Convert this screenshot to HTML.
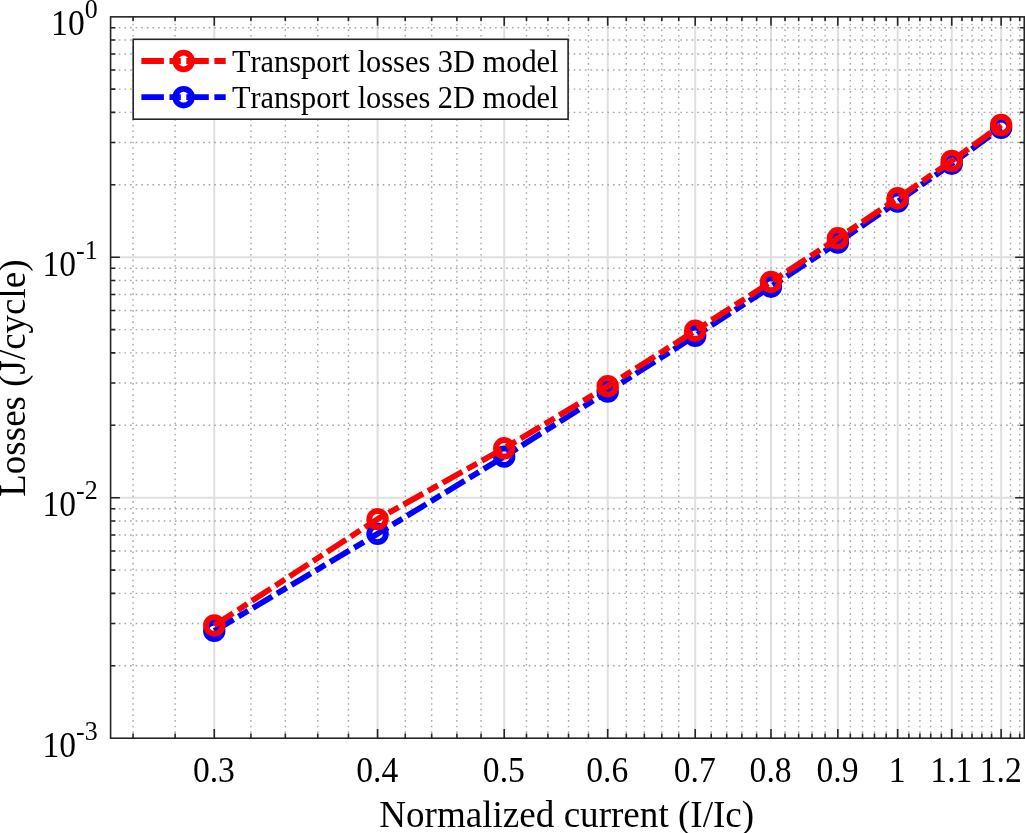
<!DOCTYPE html>
<html><head><meta charset="utf-8"><title>Transport losses</title>
<style>html,body{margin:0;padding:0;background:#fff;width:1025px;height:833px;overflow:hidden}svg{display:block}text{font-family:"Liberation Serif","Times New Roman",serif;fill:#000;font-kerning:none}</style></head><body>
<svg width="1025" height="833" viewBox="0 0 1025 833">
<rect x="0" y="0" width="1025" height="833" fill="#fff"/>
<path d="M214.28 738.20V16.70M377.57 738.20V16.70M504.22 738.20V16.70M607.71 738.20V16.70M695.20 738.20V16.70M770.99 738.20V16.70M837.84 738.20V16.70M897.65 738.20V16.70M951.74 738.20V16.70M1001.13 738.20V16.70M110.80 257.20H1024.30M110.80 497.70H1024.30" stroke="#dfdfdf" stroke-width="2" fill="none"/>
<path d="M133.06 738.20V16.70M175.12 738.20V16.70M250.92 738.20V16.70M285.33 738.20V16.70M317.77 738.20V16.70M348.46 738.20V16.70M405.26 738.20V16.70M431.67 738.20V16.70M456.90 738.20V16.70M481.05 738.20V16.70M526.48 738.20V16.70M547.91 738.20V16.70M568.55 738.20V16.70M588.46 738.20V16.70M626.32 738.20V16.70M644.34 738.20V16.70M661.80 738.20V16.70M678.75 738.20V16.70M711.19 738.20V16.70M726.74 738.20V16.70M741.88 738.20V16.70M756.62 738.20V16.70M785.01 738.20V16.70M798.68 738.20V16.70M812.04 738.20V16.70M825.09 738.20V16.70M850.32 738.20V16.70M862.53 738.20V16.70M874.48 738.20V16.70M886.18 738.20V16.70M908.89 738.20V16.70M919.91 738.20V16.70M930.72 738.20V16.70M941.33 738.20V16.70M961.97 738.20V16.70M972.02 738.20V16.70M981.89 738.20V16.70M991.59 738.20V16.70M1010.51 738.20V16.70M1019.74 738.20V16.70" stroke="#a6a6a6" stroke-width="1.4" stroke-dasharray="1.6 4.0155" stroke-dashoffset="0.3" fill="none"/>
<path d="M110.80 665.80H1024.30M110.80 623.45H1024.30M110.80 593.40H1024.30M110.80 570.10H1024.30M110.80 551.05H1024.30M110.80 534.95H1024.30M110.80 521.01H1024.30M110.80 508.70H1024.30M110.80 425.30H1024.30M110.80 382.95H1024.30M110.80 352.90H1024.30M110.80 329.60H1024.30M110.80 310.55H1024.30M110.80 294.45H1024.30M110.80 280.51H1024.30M110.80 268.20H1024.30M110.80 184.80H1024.30M110.80 142.45H1024.30M110.80 112.40H1024.30M110.80 89.10H1024.30M110.80 70.05H1024.30M110.80 53.95H1024.30M110.80 40.01H1024.30M110.80 27.70H1024.30" stroke="#a6a6a6" stroke-width="1.4" stroke-dasharray="1.6 4.0155" stroke-dashoffset="-2.4" fill="none"/>
<polyline points="214.28,630.90 377.57,533.80 504.22,456.60 607.71,391.60 695.20,335.80 770.99,286.70 837.84,242.50 897.65,201.60 951.74,163.70 1001.13,127.80" fill="none" stroke="#0000ff" stroke-width="5.8" stroke-dasharray="22.5 5.6 11.3 5.5" stroke-linejoin="round"/>
<circle cx="214.28" cy="630.90" r="8.3" fill="none" stroke="#0000ff" stroke-width="5.8"/>
<circle cx="377.57" cy="533.80" r="8.3" fill="none" stroke="#0000ff" stroke-width="5.8"/>
<circle cx="504.22" cy="456.60" r="8.3" fill="none" stroke="#0000ff" stroke-width="5.8"/>
<circle cx="607.71" cy="391.60" r="8.3" fill="none" stroke="#0000ff" stroke-width="5.8"/>
<circle cx="695.20" cy="335.80" r="8.3" fill="none" stroke="#0000ff" stroke-width="5.8"/>
<circle cx="770.99" cy="286.70" r="8.3" fill="none" stroke="#0000ff" stroke-width="5.8"/>
<circle cx="837.84" cy="242.50" r="8.3" fill="none" stroke="#0000ff" stroke-width="5.8"/>
<circle cx="897.65" cy="201.60" r="8.3" fill="none" stroke="#0000ff" stroke-width="5.8"/>
<circle cx="951.74" cy="163.70" r="8.3" fill="none" stroke="#0000ff" stroke-width="5.8"/>
<circle cx="1001.13" cy="127.80" r="8.3" fill="none" stroke="#0000ff" stroke-width="5.8"/>
<polyline points="214.28,625.40 377.57,519.10 504.22,448.30 607.71,386.20 695.20,330.70 770.99,281.90 837.84,238.30 897.65,198.20 951.74,160.90 1001.13,125.00" fill="none" stroke="#ff0000" stroke-width="5.8" stroke-dasharray="22.5 5.6 11.3 5.5" stroke-linejoin="round"/>
<circle cx="214.28" cy="625.40" r="8.3" fill="none" stroke="#ff0000" stroke-width="5.8"/>
<circle cx="377.57" cy="519.10" r="8.3" fill="none" stroke="#ff0000" stroke-width="5.8"/>
<circle cx="504.22" cy="448.30" r="8.3" fill="none" stroke="#ff0000" stroke-width="5.8"/>
<circle cx="607.71" cy="386.20" r="8.3" fill="none" stroke="#ff0000" stroke-width="5.8"/>
<circle cx="695.20" cy="330.70" r="8.3" fill="none" stroke="#ff0000" stroke-width="5.8"/>
<circle cx="770.99" cy="281.90" r="8.3" fill="none" stroke="#ff0000" stroke-width="5.8"/>
<circle cx="837.84" cy="238.30" r="8.3" fill="none" stroke="#ff0000" stroke-width="5.8"/>
<circle cx="897.65" cy="198.20" r="8.3" fill="none" stroke="#ff0000" stroke-width="5.8"/>
<circle cx="951.74" cy="160.90" r="8.3" fill="none" stroke="#ff0000" stroke-width="5.8"/>
<circle cx="1001.13" cy="125.00" r="8.3" fill="none" stroke="#ff0000" stroke-width="5.8"/>
<path d="M214.28 738.20v-9.1M214.28 16.70v9.1M377.57 738.20v-9.1M377.57 16.70v9.1M504.22 738.20v-9.1M504.22 16.70v9.1M607.71 738.20v-9.1M607.71 16.70v9.1M695.20 738.20v-9.1M695.20 16.70v9.1M770.99 738.20v-9.1M770.99 16.70v9.1M837.84 738.20v-9.1M837.84 16.70v9.1M897.65 738.20v-9.1M897.65 16.70v9.1M951.74 738.20v-9.1M951.74 16.70v9.1M1001.13 738.20v-9.1M1001.13 16.70v9.1M133.06 738.20v-4.6M133.06 16.70v4.6M175.12 738.20v-4.6M175.12 16.70v4.6M250.92 738.20v-4.6M250.92 16.70v4.6M285.33 738.20v-4.6M285.33 16.70v4.6M317.77 738.20v-4.6M317.77 16.70v4.6M348.46 738.20v-4.6M348.46 16.70v4.6M405.26 738.20v-4.6M405.26 16.70v4.6M431.67 738.20v-4.6M431.67 16.70v4.6M456.90 738.20v-4.6M456.90 16.70v4.6M481.05 738.20v-4.6M481.05 16.70v4.6M526.48 738.20v-4.6M526.48 16.70v4.6M547.91 738.20v-4.6M547.91 16.70v4.6M568.55 738.20v-4.6M568.55 16.70v4.6M588.46 738.20v-4.6M588.46 16.70v4.6M626.32 738.20v-4.6M626.32 16.70v4.6M644.34 738.20v-4.6M644.34 16.70v4.6M661.80 738.20v-4.6M661.80 16.70v4.6M678.75 738.20v-4.6M678.75 16.70v4.6M711.19 738.20v-4.6M711.19 16.70v4.6M726.74 738.20v-4.6M726.74 16.70v4.6M741.88 738.20v-4.6M741.88 16.70v4.6M756.62 738.20v-4.6M756.62 16.70v4.6M785.01 738.20v-4.6M785.01 16.70v4.6M798.68 738.20v-4.6M798.68 16.70v4.6M812.04 738.20v-4.6M812.04 16.70v4.6M825.09 738.20v-4.6M825.09 16.70v4.6M850.32 738.20v-4.6M850.32 16.70v4.6M862.53 738.20v-4.6M862.53 16.70v4.6M874.48 738.20v-4.6M874.48 16.70v4.6M886.18 738.20v-4.6M886.18 16.70v4.6M908.89 738.20v-4.6M908.89 16.70v4.6M919.91 738.20v-4.6M919.91 16.70v4.6M930.72 738.20v-4.6M930.72 16.70v4.6M941.33 738.20v-4.6M941.33 16.70v4.6M961.97 738.20v-4.6M961.97 16.70v4.6M972.02 738.20v-4.6M972.02 16.70v4.6M981.89 738.20v-4.6M981.89 16.70v4.6M991.59 738.20v-4.6M991.59 16.70v4.6M1010.51 738.20v-4.6M1010.51 16.70v4.6M1019.74 738.20v-4.6M1019.74 16.70v4.6M110.80 257.20h9.1M1024.30 257.20h-9.1M110.80 497.70h9.1M1024.30 497.70h-9.1M110.80 665.80h4.6M1024.30 665.80h-4.6M110.80 623.45h4.6M1024.30 623.45h-4.6M110.80 593.40h4.6M1024.30 593.40h-4.6M110.80 570.10h4.6M1024.30 570.10h-4.6M110.80 551.05h4.6M1024.30 551.05h-4.6M110.80 534.95h4.6M1024.30 534.95h-4.6M110.80 521.01h4.6M1024.30 521.01h-4.6M110.80 508.70h4.6M1024.30 508.70h-4.6M110.80 425.30h4.6M1024.30 425.30h-4.6M110.80 382.95h4.6M1024.30 382.95h-4.6M110.80 352.90h4.6M1024.30 352.90h-4.6M110.80 329.60h4.6M1024.30 329.60h-4.6M110.80 310.55h4.6M1024.30 310.55h-4.6M110.80 294.45h4.6M1024.30 294.45h-4.6M110.80 280.51h4.6M1024.30 280.51h-4.6M110.80 268.20h4.6M1024.30 268.20h-4.6M110.80 184.80h4.6M1024.30 184.80h-4.6M110.80 142.45h4.6M1024.30 142.45h-4.6M110.80 112.40h4.6M1024.30 112.40h-4.6M110.80 89.10h4.6M1024.30 89.10h-4.6M110.80 70.05h4.6M1024.30 70.05h-4.6M110.80 53.95h4.6M1024.30 53.95h-4.6M110.80 40.01h4.6M1024.30 40.01h-4.6M110.80 27.70h4.6M1024.30 27.70h-4.6" stroke="#262626" stroke-width="1.6" fill="none"/>
<rect x="110.6" y="16.85" width="913.65" height="721.35" fill="none" stroke="#262626" stroke-width="1.6"/>
<text transform="translate(213.88 781.6) scale(1 1.035)" font-size="33.6" text-anchor="middle" fill="#262626">0.3</text>
<text transform="translate(377.17 781.6) scale(1 1.035)" font-size="33.6" text-anchor="middle" fill="#262626">0.4</text>
<text transform="translate(503.82 781.6) scale(1 1.035)" font-size="33.6" text-anchor="middle" fill="#262626">0.5</text>
<text transform="translate(607.31 781.6) scale(1 1.035)" font-size="33.6" text-anchor="middle" fill="#262626">0.6</text>
<text transform="translate(694.80 781.6) scale(1 1.035)" font-size="33.6" text-anchor="middle" fill="#262626">0.7</text>
<text transform="translate(770.59 781.6) scale(1 1.035)" font-size="33.6" text-anchor="middle" fill="#262626">0.8</text>
<text transform="translate(837.44 781.6) scale(1 1.035)" font-size="33.6" text-anchor="middle" fill="#262626">0.9</text>
<text transform="translate(897.25 781.6) scale(1 1.035)" font-size="33.6" text-anchor="middle" fill="#262626">1</text>
<text transform="translate(951.34 781.6) scale(1 1.035)" font-size="33.6" text-anchor="middle" fill="#262626">1.1</text>
<text transform="translate(1000.73 781.6) scale(1 1.035)" font-size="33.6" text-anchor="middle" fill="#262626">1.2</text>
<text transform="translate(97.7 35.30) scale(1 1.035)" font-size="33.6" text-anchor="end" fill="#262626">10<tspan font-size="26" dy="-16.6">0</tspan></text>
<text transform="translate(97.7 275.80) scale(1 1.035)" font-size="33.6" text-anchor="end" fill="#262626">10<tspan font-size="26" dy="-16.6">-1</tspan></text>
<text transform="translate(97.7 516.30) scale(1 1.035)" font-size="33.6" text-anchor="end" fill="#262626">10<tspan font-size="26" dy="-16.6">-2</tspan></text>
<text transform="translate(97.7 756.80) scale(1 1.035)" font-size="33.6" text-anchor="end" fill="#262626">10<tspan font-size="26" dy="-16.6">-3</tspan></text>
<text x="566.7" y="826.5" font-size="37.12" text-anchor="middle" fill="#262626">Normalized current (I/Ic)</text>
<text transform="translate(25.4 378.1) rotate(-90)" x="0" y="0" font-size="37" text-anchor="middle" fill="#262626">Losses (J/cycle)</text>
<rect x="133.2" y="39.3" width="434.90000000000003" height="79.90" fill="#fff" stroke="#262626" stroke-width="1.6"/>
<path d="M141.4 61.0H225.7" stroke="#ff0000" stroke-width="5.8" stroke-dasharray="22.5 5.6 11.3 5.5" fill="none"/>
<circle cx="183.6" cy="61.0" r="8.3" fill="none" stroke="#ff0000" stroke-width="5.8"/>
<text transform="translate(231.9 71.8) scale(1 1.07)" font-size="30.4">Transport losses 3D model</text>
<path d="M141.4 97.2H225.7" stroke="#0000ff" stroke-width="5.8" stroke-dasharray="22.5 5.6 11.3 5.5" fill="none"/>
<circle cx="183.6" cy="97.2" r="8.3" fill="none" stroke="#0000ff" stroke-width="5.8"/>
<text transform="translate(231.9 107.8) scale(1 1.07)" font-size="30.4">Transport losses 2D model</text>
</svg></body></html>
